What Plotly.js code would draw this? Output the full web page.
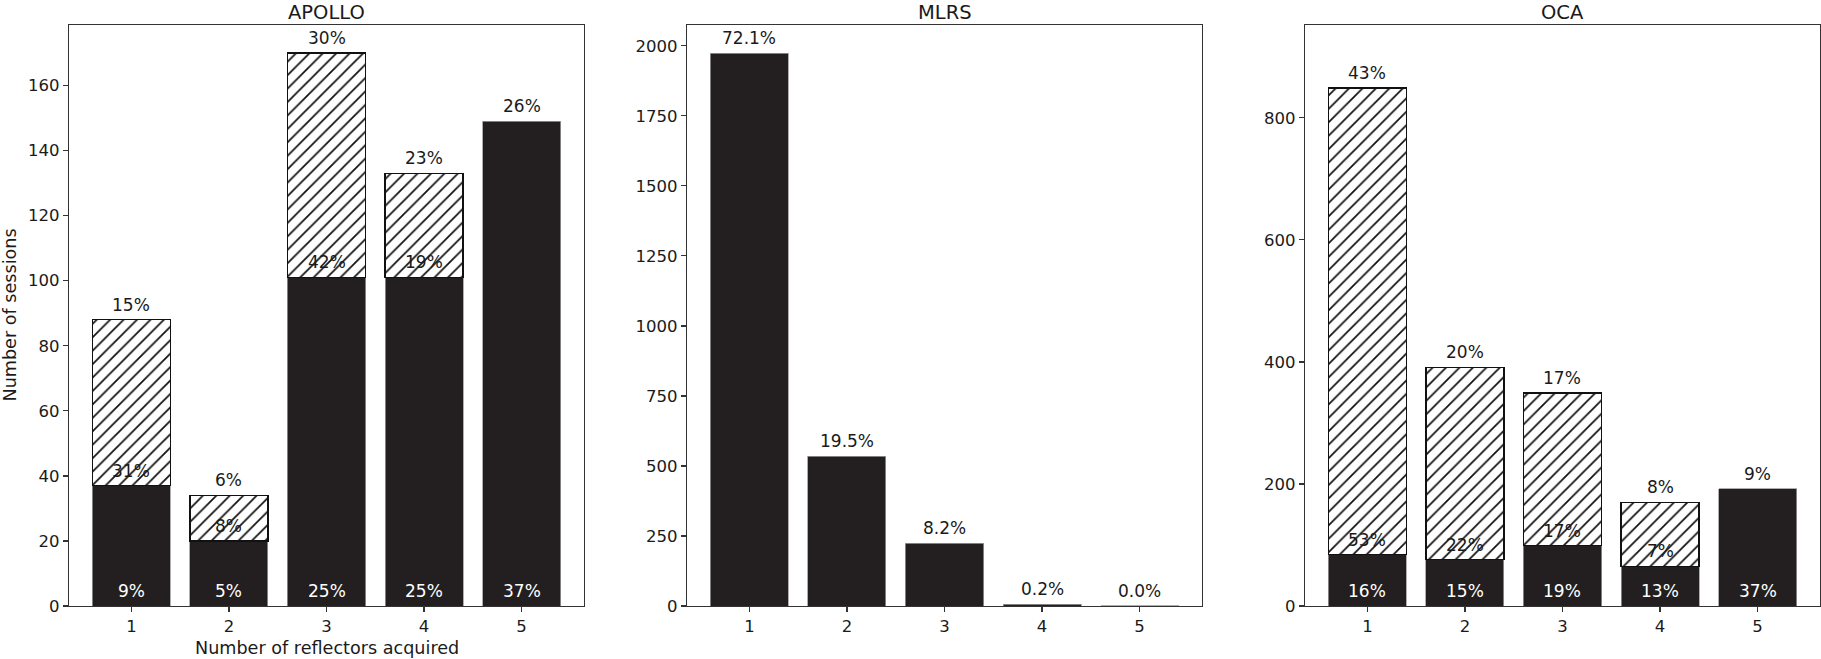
<!DOCTYPE html>
<html><head><meta charset="utf-8">
<script src="https://cdn.plot.ly/plotly-3.0.1.min.js"></script>
<style>html,body{margin:0;padding:0;background:#fff}#chart{width:1821px;height:659px}</style>
</head><body><div id="chart"></div>
<script>
// ---- data ----
const categories = [1, 2, 3, 4, 5];
const panelNames = ["APOLLO", "MLRS", "OCA"];

const apolloSolid   = [37, 20, 101, 101, 149];
const apolloHatched = [51, 14, 69, 32, null];
const apolloTopLabels    = ["15%", "6%", "30%", "23%", "26%"];
const apolloMidLabels    = ["31%", "8%", "42%", "19%", ""];
const apolloBottomLabels = ["9%", "5%", "25%", "25%", "37%"];

const mlrsSolid = [1973, 534, 224, 6, 1];
const mlrsTopLabels = ["72.1%", "19.5%", "8.2%", "0.2%", "0.0%"];

const ocaSolid   = [84, 76, 99, 65, 192];
const ocaHatched = [765, 315, 250, 105, null];
const ocaTopLabels    = ["43%", "20%", "17%", "8%", "9%"];
const ocaMidLabels    = ["53%", "22%", "17%", "7%", ""];
const ocaBottomLabels = ["16%", "15%", "19%", "13%", "37%"];

const xTitle = "Number of reflectors acquired";
const yTitle = "Number of sessions";

// ---- styles ----
const FONT = "DejaVu Sans, Verdana, sans-serif";
const TXT = "#1a1a1a";
const SOLID = "#231f20";
const FS_TICK = 16.5;
const FS_LBL = 17;
const FS_AXT = 17.6;
const FS_TITLE = 19.5;

const panels = [
  {name: panelNames[0], solid: apolloSolid, hatched: apolloHatched, top: apolloTopLabels, mid: apolloMidLabels, bottom: apolloBottomLabels, range: [0, 178.6], dtick: 20, domain: [0, 0.29412]},
  {name: panelNames[1], solid: mlrsSolid, hatched: null, top: mlrsTopLabels, mid: null, bottom: null, range: [0, 2074], dtick: 250, domain: [0.35294, 0.64706]},
  {name: panelNames[2], solid: ocaSolid, hatched: ocaHatched, top: ocaTopLabels, mid: ocaMidLabels, bottom: ocaBottomLabels, range: [0, 952], dtick: 200, domain: [0.70588, 1.0]}
];

const traces = [];
const annotations = [];
const layout = {
  width: 1821, height: 659,
  margin: {l: 69, r: 1, t: 25, b: 53},
  paper_bgcolor: "#fff", plot_bgcolor: "#fff",
  barmode: "stack", bargap: 0.2,
  showlegend: false,
  font: {family: FONT, size: FS_TICK, color: TXT}
};

panels.forEach((p, i) => {
  const n = i === 0 ? "" : String(i + 1);
  const xa = "x" + n, ya = "y" + n;
  traces.push({
    type: "bar", x: categories, y: p.solid, xaxis: xa, yaxis: ya, width: 0.8,
    marker: {color: SOLID, line: {color: "#9a9a9a", width: 0.8}},
    hoverinfo: "skip"
  });
  if (p.hatched) {
    traces.push({
      type: "bar", x: categories, y: p.hatched, xaxis: xa, yaxis: ya, width: 0.8,
      marker: {
        color: "#ffffff",
        line: {color: "#111", width: 1.3},
        pattern: {shape: "/", fgcolor: "#111", bgcolor: "#ffffff", size: 9.5, solidity: 0.18, fillmode: "replace"}
      },
      hoverinfo: "skip"
    });
  }
  const axCommon = {
    showline: true, mirror: true, linecolor: "#333", linewidth: 1.3,
    ticks: "outside", ticklen: 5, tickwidth: 1.3, tickcolor: "#333",
    showgrid: false, zeroline: false,
    tickfont: {family: FONT, size: FS_TICK, color: TXT}
  };
  layout["xaxis" + n] = Object.assign({}, axCommon, {
    domain: p.domain, range: [0.36, 5.64], tickmode: "array", tickvals: categories,
    ticktext: categories.map(String), anchor: ya
  });
  layout["yaxis" + n] = Object.assign({}, axCommon, {
    range: p.range, dtick: p.dtick, tick0: 0, anchor: xa
  });
  // panel title
  annotations.push({
    xref: xa + " domain", yref: "paper", x: 0.5, y: 1, xanchor: "center", yanchor: "bottom",
    yshift: 0, borderpad: 0, showarrow: false, text: p.name, font: {family: FONT, size: FS_TITLE, color: TXT}
  });
  categories.forEach((c, k) => {
    const total = p.solid[k] + (p.hatched && p.hatched[k] ? p.hatched[k] : 0);
    annotations.push({xref: xa, yref: ya, x: c, y: total, xanchor: "center", yanchor: "bottom",
      yshift: 3, showarrow: false, text: p.top[k], font: {family: FONT, size: FS_LBL, color: TXT}});
    if (p.mid && p.mid[k]) {
      annotations.push({xref: xa, yref: ya, x: c, y: p.solid[k], xanchor: "center", yanchor: "bottom",
        yshift: 3, showarrow: false, text: p.mid[k], font: {family: FONT, size: FS_LBL, color: TXT}});
    }
    if (p.bottom && p.bottom[k]) {
      annotations.push({xref: xa, yref: ya, x: c, y: 0, xanchor: "center", yanchor: "bottom",
        yshift: 3, showarrow: false, text: p.bottom[k], font: {family: FONT, size: FS_LBL, color: "#ffffff"}});
    }
  });
});

annotations.push({xref: "x domain", yref: "paper", x: 0.5, y: 0, xanchor: "center", yanchor: "middle",
  yshift: -42, showarrow: false, text: xTitle, font: {family: FONT, size: FS_AXT, color: TXT}});
annotations.push({xref: "paper", yref: "paper", x: -60 / 1751, y: 0.5, xanchor: "center", yanchor: "middle",
  textangle: -90, showarrow: false, text: yTitle, font: {family: FONT, size: FS_AXT, color: TXT}});

layout.annotations = annotations;
Plotly.newPlot("chart", traces, layout, {displayModeBar: false, staticPlot: true});
</script>
</body></html>
